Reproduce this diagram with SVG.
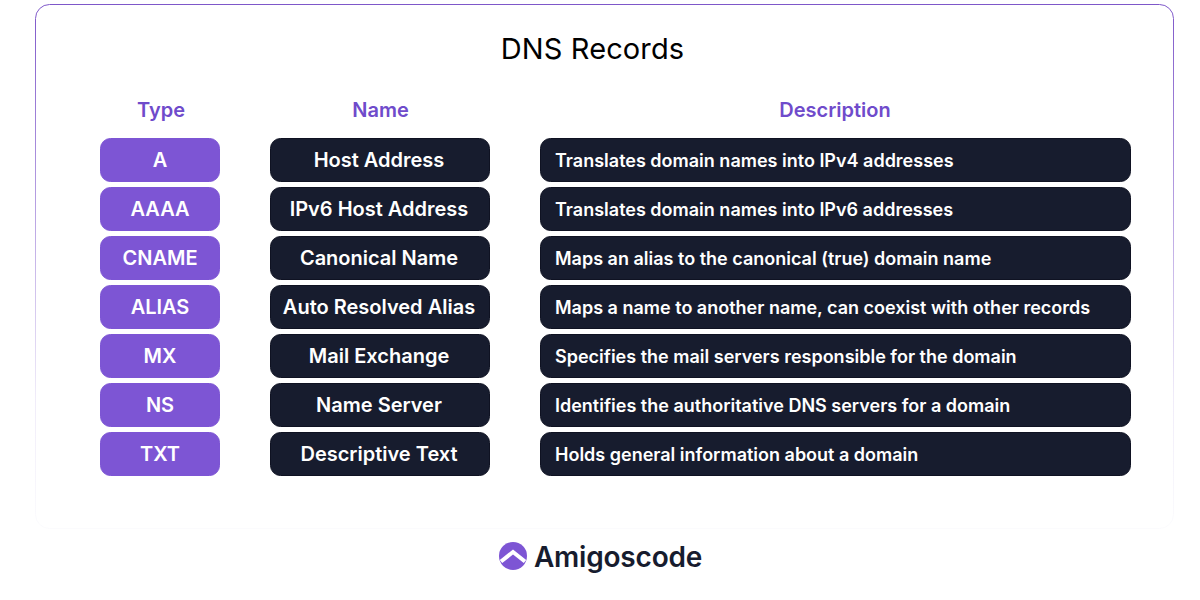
<svg xmlns="http://www.w3.org/2000/svg" width="1200" height="600" viewBox="0 0 1200 600">
<defs>
<linearGradient id="edge" gradientUnits="userSpaceOnUse" x1="0" y1="4" x2="0" y2="528">
<stop offset="0" stop-color="#7e57c9"/><stop offset="0.4" stop-color="#b9a3e3"/><stop offset="0.75" stop-color="#f0ecf9"/><stop offset="1" stop-color="#fbfbfd"/>
</linearGradient>
</defs>
<style>
text{font-family:Inter,"Liberation Sans",sans-serif;font-weight:600;text-anchor:middle}
.n{fill:#171c2e;stroke:#0f1222;stroke-width:1}
.p{fill:#7d55d4;stroke:#7d55d4;stroke-width:1}
.l{fill:#fff;font-size:20px}.d{fill:#fff;font-size:18px;text-anchor:start}
.h{fill:#6f4bcb;font-size:20px}
</style>
<rect width="1200" height="600" fill="#fff"/>
<rect id="panel" x="35.5" y="4.5" width="1138" height="524" rx="14" fill="#fff" stroke="url(#edge)" stroke-width="1"/>
<text id="title" x="592.500" y="59" font-size="29" style="font-weight:400;fill:#000;letter-spacing:.12px">DNS Records</text>
<g id="headers">
<text class="h" x="161" y="117">Type</text>
<text class="h" x="380.500" y="117">Name</text>
<text class="h" x="835" y="117">Description</text>
</g>
<g id="row-a"><rect class="p" x="100.500" y="138.500" width="119" height="43" rx="10"/><text class="l" x="160" y="167">A</text><rect class="n" x="270.500" y="138.500" width="219" height="43" rx="10"/><text class="l" x="379" y="167">Host Address</text><rect class="n" x="540.500" y="138.500" width="590" height="43" rx="10"/><text class="d" x="555" y="167">Translates domain names into IPv4 addresses</text></g>
<g id="row-aaaa"><rect class="p" x="100.500" y="187.500" width="119" height="43" rx="10"/><text class="l" x="160" y="216">AAAA</text><rect class="n" x="270.500" y="187.500" width="219" height="43" rx="10"/><text class="l" x="379" y="216">IPv6 Host Address</text><rect class="n" x="540.500" y="187.500" width="590" height="43" rx="10"/><text class="d" x="555" y="216">Translates domain names into IPv6 addresses</text></g>
<g id="row-cname"><rect class="p" x="100.500" y="236.500" width="119" height="43" rx="10"/><text class="l" x="160" y="265">CNAME</text><rect class="n" x="270.500" y="236.500" width="219" height="43" rx="10"/><text class="l" x="379" y="265">Canonical Name</text><rect class="n" x="540.500" y="236.500" width="590" height="43" rx="10"/><text class="d" x="555" y="265">Maps an alias to the canonical (true) domain name</text></g>
<g id="row-alias"><rect class="p" x="100.500" y="285.500" width="119" height="43" rx="10"/><text class="l" x="160" y="314">ALIAS</text><rect class="n" x="270.500" y="285.500" width="219" height="43" rx="10"/><text class="l" x="379" y="314">Auto Resolved Alias</text><rect class="n" x="540.500" y="285.500" width="590" height="43" rx="10"/><text class="d" x="555" y="314">Maps a name to another name, can coexist with other records</text></g>
<g id="row-mx"><rect class="p" x="100.500" y="334.500" width="119" height="43" rx="10"/><text class="l" x="160" y="363">MX</text><rect class="n" x="270.500" y="334.500" width="219" height="43" rx="10"/><text class="l" x="379" y="363">Mail Exchange</text><rect class="n" x="540.500" y="334.500" width="590" height="43" rx="10"/><text class="d" x="555" y="363">Specifies the mail servers responsible for the domain</text></g>
<g id="row-ns"><rect class="p" x="100.500" y="383.500" width="119" height="43" rx="10"/><text class="l" x="160" y="412">NS</text><rect class="n" x="270.500" y="383.500" width="219" height="43" rx="10"/><text class="l" x="379" y="412">Name Server</text><rect class="n" x="540.500" y="383.500" width="590" height="43" rx="10"/><text class="d" x="555" y="412">Identifies the authoritative DNS servers for a domain</text></g>
<g id="row-txt"><rect class="p" x="100.500" y="432.500" width="119" height="43" rx="10"/><text class="l" x="160" y="461">TXT</text><rect class="n" x="270.500" y="432.500" width="219" height="43" rx="10"/><text class="l" x="379" y="461">Descriptive Text</text><rect class="n" x="540.500" y="432.500" width="590" height="43" rx="10"/><text class="d" x="555" y="461">Holds general information about a domain</text></g>
<g id="logo">
<circle cx="513" cy="556" r="14" fill="#7d55d4"/>
<path d="M501 561.500 L513 552 L525 561.500" fill="none" stroke="#fff" stroke-width="4"/>
<text x="618" y="567" font-size="28" style="font-weight:600;fill:#171c2e;letter-spacing:-.2px">Amigoscode</text>
</g>
</svg>
